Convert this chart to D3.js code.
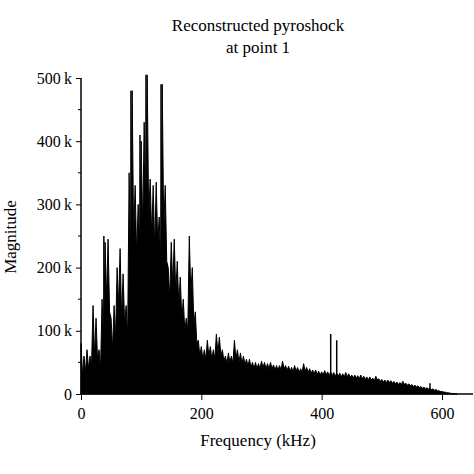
<!DOCTYPE html>
<html><head><meta charset="utf-8">
<script src="https://cdn.jsdelivr.net/npm/d3@7.9.0/dist/d3.min.js"></script>
<style>body{margin:0;background:#fff}svg{font-family:"Liberation Serif","DejaVu Serif",serif}</style>
</head><body><svg id="c" width="474" height="474"></svg>
<script>
// envelope peaks every 5 kHz (values in k), valleys between them
const freqs = d3.range(0, 630, 5);
const peaks = [80,60,70,60,140,120,70,150,240,245,120,140,200,230,190,140,350,480,330,300,400,430,505,340,330,335,280,490,330,200,
  240,245,210,185,150,120,250,200,130,85,75,70,85,75,70,95,90,70,60,65,60,85,70,65,60,55,55,50,50,48,
  52,50,48,50,46,45,45,52,45,44,42,45,42,40,48,42,40,38,38,36,35,37,35,35,34,33,33,32,34,32,
  30,30,29,30,28,27,27,25,28,24,23,22,22,21,20,19,18,20,17,16,15,14,13,12,11,10,9,8,7,5,
  4,3,2,1,0.5,0];
const valleys = [30,35,40,45,60,55,40,80,150,130,70,90,140,120,110,90,200,250,220,230,260,300,280,250,230,240,200,260,210,150,
  170,160,140,120,100,100,160,110,80,60,55,55,60,55,55,65,60,52,48,50,48,55,50,48,46,44,42,40,40,40,
  42,40,40,40,38,38,38,40,37,36,35,36,34,34,36,34,33,32,31,30,30,30,29,29,28,28,27,27,27,26,
  25,25,24,24,23,22,22,21,22,20,19,18,18,17,16,15,15,15,14,13,12,11,10,9,8,8,7,6,5,4,
  3,2,1.5,0.8,0.3,0];
const spikeF = [415, 425, 580, 38, 108, 133, 83, 98];
const spikeV = [95, 85, 17, 250, 505, 490, 480, 410];
const xTicks = [0, 200, 400, 600];
const yTicks = [0, 100, 200, 300, 400, 500];

const svg = d3.select('#c');
const x = d3.scaleLinear().domain([0, 600]).range([81, 442]);
const y = d3.scaleLinear().domain([0, 500]).range([394, 78]);
const data = [];
freqs.forEach((f, i) => {
  data.push({f, v: peaks[i]});
  if (i < freqs.length - 1) data.push({f: f + 2.5, v: valleys[i]});
});

svg.append('path').datum(data)
  .attr('d', d3.area().x(d => x(d.f)).y0(y(0)).y1(d => y(d.v)))
  .attr('fill', '#000').attr('stroke', '#000').attr('stroke-width', 1);
svg.selectAll('line.sp').data(spikeF).join('line')
  .attr('x1', d => x(d)).attr('x2', d => x(d))
  .attr('y1', y(0)).attr('y2', (d, i) => y(spikeV[i]))
  .attr('stroke', '#000').attr('stroke-width', 1.5);

// axes
const xa = svg.append('g').attr('transform', `translate(0,${y(0)})`)
  .call(d3.axisBottom(x).tickValues(xTicks).tickSize(6).tickPadding(8));
xa.select('.domain').attr('d', `M${x(0)},0H473`);
const ya = svg.append('g').attr('transform', `translate(${x(0)},0)`)
  .call(d3.axisLeft(y).tickValues(yTicks).tickSize(5).tickPadding(4).tickFormat(d => d === 0 ? '0' : d + '\u2009k'));
ya.select('.domain').attr('d', `M0,${y(0)}V${y(500)}`);
[xa, ya].forEach(g => {
  g.selectAll('text').attr('font-size', 16).attr('font-family', 'Liberation Serif');
  g.select('.domain').attr('stroke-width', 1.5);
});
ya.selectAll('line.mn').data(d3.range(50, 500, 100)).join('line')
  .attr('x1', 0).attr('x2', -3).attr('y1', d => y(d)).attr('y2', d => y(d)).attr('stroke', '#000');

svg.append('text').attr('x', 258).attr('y', 31).attr('text-anchor', 'middle').attr('font-size', 17).text('Reconstructed pyroshock');
svg.append('text').attr('x', 258).attr('y', 53).attr('text-anchor', 'middle').attr('font-size', 17).text('at point 1');
svg.append('text').attr('x', 258).attr('y', 446).attr('text-anchor', 'middle').attr('font-size', 17).text('Frequency (kHz)');
svg.append('text').attr('transform', 'translate(16,237) rotate(-90)').attr('text-anchor', 'middle').attr('font-size', 17).text('Magnitude');
</script></body></html>
